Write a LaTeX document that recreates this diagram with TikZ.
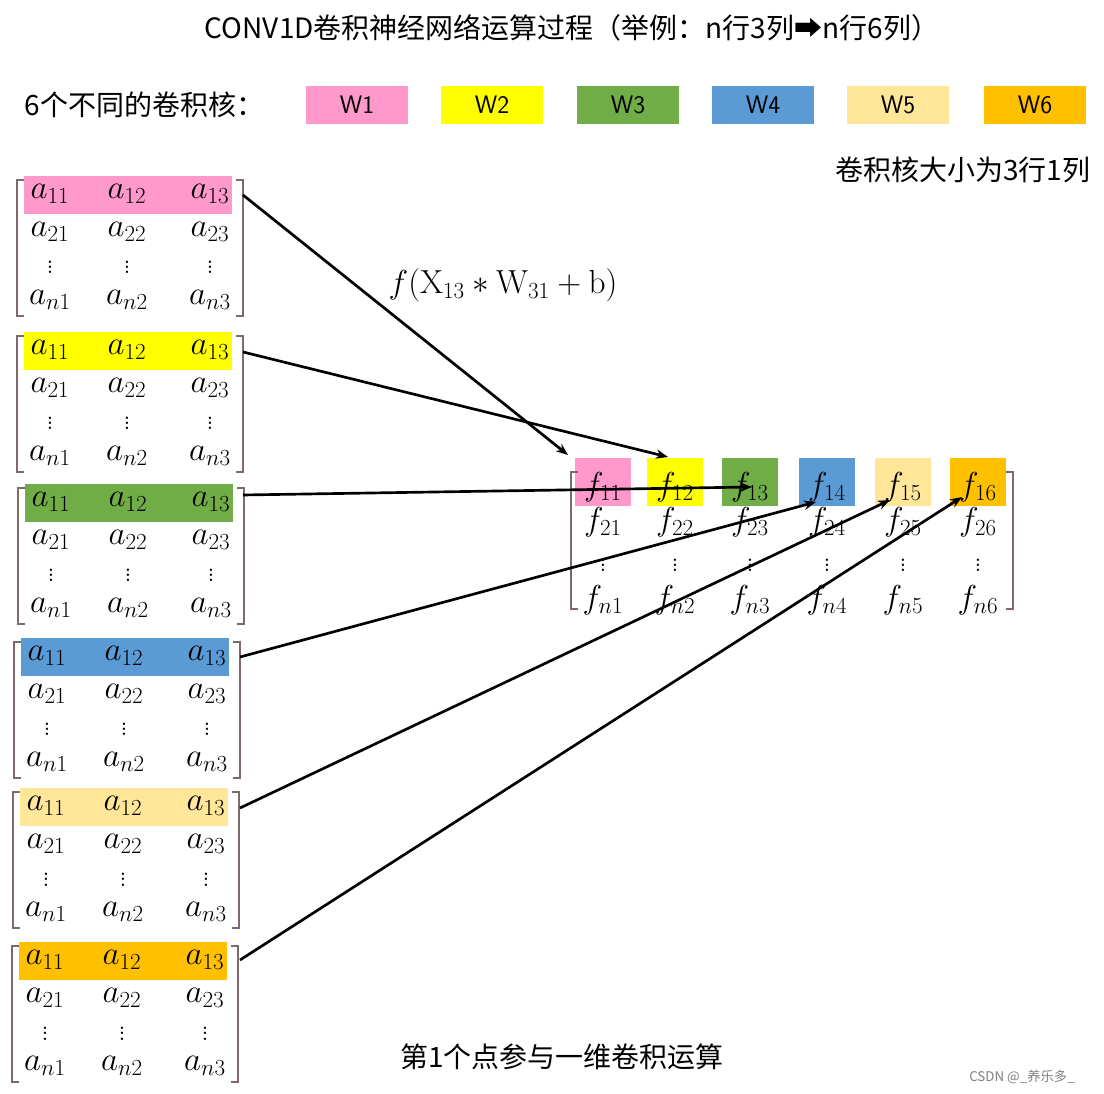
\documentclass[tikz,border=0pt]{standalone}
\usepackage{fontspec}
\newfontfamily\cjk{Noto Sans CJK SC}
\usetikzlibrary{arrows.meta}
\definecolor{cA}{HTML}{FF99CC}
\definecolor{cB}{HTML}{FFFF00}
\definecolor{cC}{HTML}{70AD47}
\definecolor{cD}{HTML}{5B9BD5}
\definecolor{cE}{HTML}{FFE699}
\definecolor{cF}{HTML}{FFC000}
\definecolor{brk}{HTML}{7F6A6A}
\begin{document}
\begin{tikzpicture}[x=0.75pt,y=-0.75pt,
  ent/.style={inner sep=0pt,font=\fontsize{25}{28}\selectfont},
  vd/.style={inner sep=0pt,font=\fontsize{22}{24}\selectfont,text height=12pt,text depth=0pt},
  hl/.style={inner sep=0pt,minimum height=28pt},
  wbox/.style={inner sep=0pt,minimum width=76pt,minimum height=29pt,font=\fontsize{19}{22}\sffamily\selectfont},
  bracket/.style={draw=brk,line width=1.5pt},
  arr/.style={-{Stealth[length=9pt,width=7pt]},line width=2pt},
  cjkt/.style={font=\cjk\fontsize{21}{24}\selectfont}]
\useasboundingbox (0,0) rectangle (1104,1094);
\node[cjkt] (title) at (572,28) {CONV1D卷积神经网络运算过程（举例：n行3列➡n行6列）};
\node[cjkt,anchor=west] (lbl) at (20,105) {6个不同的卷积核：};
\foreach \i/\x/\c in {1/357/cA,2/492/cB,3/628/cC,4/763/cD,5/898/cE,6/1035/cF}
  \node[wbox,fill=\c] (w\i) at (\x,105) {W\i};
\node[cjkt,anchor=east] (size) at (1095,170) {卷积核大小为3行1列};
% left matrices
\foreach \k/\t/\l/\c in {1/176/24/cA,2/332/24/cB,3/484/25/cC,4/638/21/cD,5/788/20/cE,6/942/19/cF}{
  \node[hl,fill=\c,minimum width=156pt,anchor=north west] (h\k) at (\l,\t) {};
  \foreach \j/\dx in {1/26,2/103,3/186}{
    \node[ent] (m\k a\j) at (\l+\dx,\t+18) {$a_{1\j}$};
    \node[ent] (m\k b\j) at (\l+\dx,\t+56) {$a_{2\j}$};
    \node[vd] (m\k c\j) at (\l+\dx,\t+90) {$\vdots$};
    \node[ent] (m\k d\j) at (\l+\dx,\t+124) {$a_{n\j}$};
  }
  \draw[bracket] (\l+0,\t+4) -- (\l-7,\t+4) -- (\l-7,\t+140) -- (\l+0,\t+140);
  \draw[bracket] (\l+212,\t+4) -- (\l+219,\t+4) -- (\l+219,\t+140) -- (\l+212,\t+140);
}
% right matrix
\foreach \j/\x/\c in {1/603/cA,2/675/cB,3/750/cC,4/827/cD,5/903/cE,6/978/cF}{
  \node[hl,fill=\c,minimum width=42pt,minimum height=36pt] (g\j) at (\x,482) {};
  \node[ent] (f1\j) at (\x,487) {$f_{1\j}$};
  \node[ent] (f2\j) at (\x,522) {$f_{2\j}$};
  \node[vd] (f3\j) at (\x,564) {$\vdots$};
  \node[ent] (f4\j) at (\x,600) {$f_{n\j}$};
}
\draw[bracket] (578,472) -- (571,472) -- (571,609) -- (578,609);
\draw[bracket] (1006,472) -- (1013,472) -- (1013,609) -- (1006,609);
\node[ent] (form) at (503,285) {$f(\mathrm{X}_{13} * \mathrm{W}_{31} + \mathrm{b})$};
\coordinate (e1) at (568,455);
\coordinate (e2) at (668,457);
\coordinate (e3) at (752,487);
\coordinate (e4) at (816,502);
\coordinate (e5) at (890,500);
\coordinate (e6) at (962,497);
\draw[arr] (243,195) -- (e1);
\draw[arr] (243,352) -- (e2);
\draw[arr] (243,495) -- (e3);
\draw[arr] (240,657) -- (e4);
\draw[arr] (240,808) -- (e5);
\draw[arr] (240,960) -- (e6);
\node[cjkt] (bottom) at (562,1057) {第1个点参与一维卷积运算};
\node[font=\cjk\fontsize{10}{12}\selectfont,text=gray] (wm) at (1022,1077) {CSDN @\_养乐多\_};
\end{tikzpicture}
\end{document}
